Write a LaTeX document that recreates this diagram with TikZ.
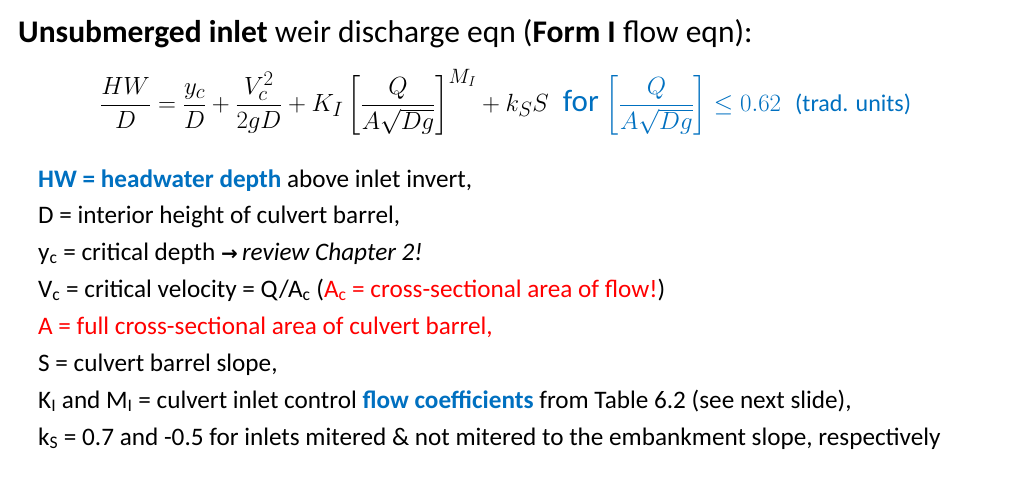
\documentclass[tikz,border=0pt]{standalone}
\usepackage{amsmath}
\usepackage{fontspec}
\setmainfont{Carlito}
\definecolor{blu}{RGB}{0,112,192}
\definecolor{rd}{RGB}{255,0,0}
\begin{document}
\begin{tikzpicture}[x=1pt,y=1pt,
  body/.style={anchor=base west,inner sep=0pt,font=\fontsize{25.2}{28}\selectfont}]
\useasboundingbox (0,0) rectangle (1024,-478);
\node[anchor=base west,inner sep=0pt,font=\fontsize{31.5}{36}\selectfont] (title) at (18,-43)
 {\textbf{Unsubmerged inlet} weir discharge eqn (\textbf{Form I} flow eqn):};
\node[anchor=west,inner sep=0pt,font=\fontsize{31}{34}\selectfont] (eq) at (100,-102)
 {$\dfrac{HW}{D}=\dfrac{y_c}{D}+\dfrac{V_c^2}{2gD}+K_I\left[\dfrac{Q}{A\sqrt{Dg}}\right]^{M_I}+k_SS$\ \
  \textcolor{blu}{for $\left[\dfrac{Q}{A\sqrt{Dg}}\right]\le 0.62$\ \ {\fontsize{24}{28}\selectfont(trad. units)}}};
\node[body] (l1) at (38,-188) {\textcolor{blu}{\textbf{HW = headwater depth}} above inlet invert,};
\node[body] (l2) at (38,-223) {D = interior height of culvert barrel,};
\node[body] (l3) at (38,-260) {y\textsubscript{c} = critical depth {\fontspec{DejaVu Sans}\bfseries\fontsize{20}{24}\selectfont→}\,\textit{review Chapter 2!}};
\node[body] (l4) at (38,-297) {V\textsubscript{c} = critical velocity = Q/A\textsubscript{c} (\textcolor{rd}{A\textsubscript{c} = cross-sectional area of flow!})};
\node[body] (l5) at (38,-334) {\textcolor{rd}{A = full cross-sectional area of culvert barrel,}};
\node[body] (l6) at (38,-371) {S = culvert barrel slope,};
\node[body] (l7) at (38,-408) {K\textsubscript{I} and M\textsubscript{I} = culvert inlet control \textcolor{blu}{\textbf{flow coefficients}} from Table 6.2 (see next slide),};
\node[body] (l8) at (38,-445) {k\textsubscript{S} = 0.7 and -0.5 for inlets mitered \& not mitered to the embankment slope, respectively};
\end{tikzpicture}
\end{document}
